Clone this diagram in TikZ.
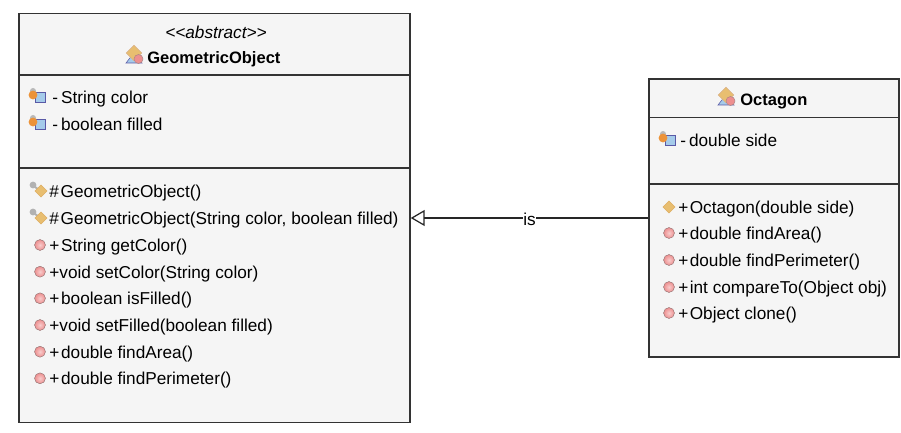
\documentclass[tikz,border=0pt]{standalone}
\usepackage{fontspec}
\setmainfont{Liberation Sans}
\usetikzlibrary{calc}
\usetikzlibrary{positioning}
\usetikzlibrary{arrows.meta}
\usetikzlibrary{shapes.geometric}

\definecolor{boxfill}{HTML}{F5F5F5}
\definecolor{boxline}{HTML}{333333}
\definecolor{pinkball}{HTML}{EE8F8F}
\definecolor{goldie}{HTML}{E8BE70}
\definecolor{padblue}{HTML}{A5CBEA}

\tikzset{
  methodicon/.pic={
    \fill[inner color=pinkball!45, outer color=pinkball, draw=gray!60!pinkball, line width=0.3pt] (0,0) circle (5.4);
  },
  ctoricon/.pic={
    \fill[gray!60] (-8,-6) circle (3.4);
    \draw[gray!60, line width=1.1pt] (-7,-5) -- (-1,0);
    \node[diamond, draw=goldie!75!brown, fill=goldie, inner sep=0pt, minimum size=7pt, line width=0.3pt] {};
  },
  fieldicon/.pic={
    \fill[padblue, draw=blue!30!gray, line width=0.35pt] (-2,-4) rectangle (8,6);
    \fill[gray!55] (-4,-5) circle (3);
    \fill[orange!65!brown!85, line width=0.3pt] (-4,-1) circle (4.4);
  },
  classicon/.pic={
    \fill[padblue, draw=blue!30!gray, line width=0.3pt] (-9,6) -- (-2,-3) -- (7,6) -- cycle;
    \node[diamond, draw=brown!60, fill=goldie, inner sep=0pt, minimum size=9pt, line width=0.3pt] at (-1,-4) {};
    \fill[pinkball, draw=gray!60!pinkball, line width=0.3pt] (3.5,2) circle (4.5);
  }
}

\begin{document}
\begin{tikzpicture}[x=0.02cm, y=-0.02cm]
    \tikzstyle{umlbox}=[draw=boxline, fill=boxfill, line width=0.85pt, inner sep=0pt]
    \tikzstyle{label}=[inner sep=0pt, text height=8pt, text depth=0pt, font=\fontsize{9.8}{11}\selectfont]
    \tikzstyle{member}=[label, anchor=west]
    \tikzstyle{title}=[label, anchor=west, font=\fontsize{9.4}{11}\selectfont\bfseries]
    \tikzstyle{divider}=[draw=boxline, line width=0.85pt]

    \useasboundingbox (0, 0) rectangle (901, 432);

    % GeometricObject
    \node[umlbox, minimum width=7.82cm, minimum height=8.18cm] (geo) at (214.5, 218) {};
    \draw[divider] ($(geo.north west) + (0, 62)$) -- ($(geo.north east) + (0, 62)$);
    \draw[divider] ($(geo.north west) + (0, 155)$) -- ($(geo.north east) + (0, 155)$);
    \node[label, font=\fontsize{9.8}{11}\selectfont\itshape] (geostereo) at (216, 31) {<{}<abstract>{}>};
    \node[title] (geotitle) at (147, 56) {GeometricObject};
    \pic at (135, 57) {classicon};

    \pic at (37, 96) {fieldicon};
    \node[member] (geocolor) at (52, 96.5) {-\kern1.7pt String color};
    \pic at (37, 123) {fieldicon};
    \node[member] (geofilled) at (52, 123.5) {-\kern1.7pt boolean filled};

    \pic at (41, 191) {ctoricon};
    \node[member] (geoctora) at (49, 190) {\#\kern1pt GeometricObject()};
    \pic at (41, 218) {ctoricon};
    \node[member] (geoctorb) at (49, 217) {\#\kern1pt GeometricObject(String color, boolean filled)};
    \pic at (40, 245) {methodicon};
    \node[member] (geoget) at (49, 244.5) {+\kern1pt String getColor()};
    \pic at (40, 271.7) {methodicon};
    \node[member] (geoset) at (49, 271.2) {+void setColor(String color)};
    \pic at (40, 298.3) {methodicon};
    \node[member] (geoisf) at (49, 297.8) {+\kern1pt boolean isFilled()};
    \pic at (40, 325) {methodicon};
    \node[member] (geosetf) at (49, 324.5) {+void setFilled(boolean filled)};
    \pic at (40, 351.7) {methodicon};
    \node[member] (geoarea) at (49, 351.2) {+\kern1pt double findArea()};
    \pic at (40, 378.3) {methodicon};
    \node[member] (geoperim) at (49, 377.8) {+\kern1pt double findPerimeter()};

    % Octagon
    \node[umlbox, minimum width=5cm, minimum height=5.56cm] (oct) at (774, 218) {};
    \draw[divider] ($(oct.north west) + (0, 39)$) -- ($(oct.north east) + (0, 39)$);
    \draw[divider] ($(oct.north west) + (0, 105.5)$) -- ($(oct.north east) + (0, 105.5)$);
    \node[title] (octtitle) at (740, 98) {Octagon};
    \pic at (727, 99) {classicon};

    \pic at (667, 139) {fieldicon};
    \node[member] (octside) at (680, 139.5) {-\kern1.7pt double side};

    \node[diamond, draw=goldie!75!brown, fill=goldie, inner sep=0pt, minimum size=7pt, line width=0.3pt] (octdia) at (669, 207) {};
    \node[member] (octctor) at (678, 206.2) {+\kern0.8pt Octagon(double side)};
    \pic at (669, 233) {methodicon};
    \node[member] (octarea) at (678, 232.5) {+\kern0.8pt double findArea()};
    \pic at (669, 260) {methodicon};
    \node[member] (octperim) at (678, 259.5) {+\kern0.8pt double findPerimeter()};
    \pic at (669, 287) {methodicon};
    \node[member] (octcomp) at (678, 286.5) {+\kern0.8pt int compareTo(Object obj)};
    \pic at (669, 313) {methodicon};
    \node[member] (octclone) at (678, 312.5) {+\kern0.8pt Object clone()};

    % Inheritance
    \draw[-{Triangle[open, length=0.28cm, width=0.32cm]}, line width=0.7pt, draw=black!85] (oct.west) -- node[label, fill=white] (islabel) {is} (geo.east);
\end{tikzpicture}
\end{document}
